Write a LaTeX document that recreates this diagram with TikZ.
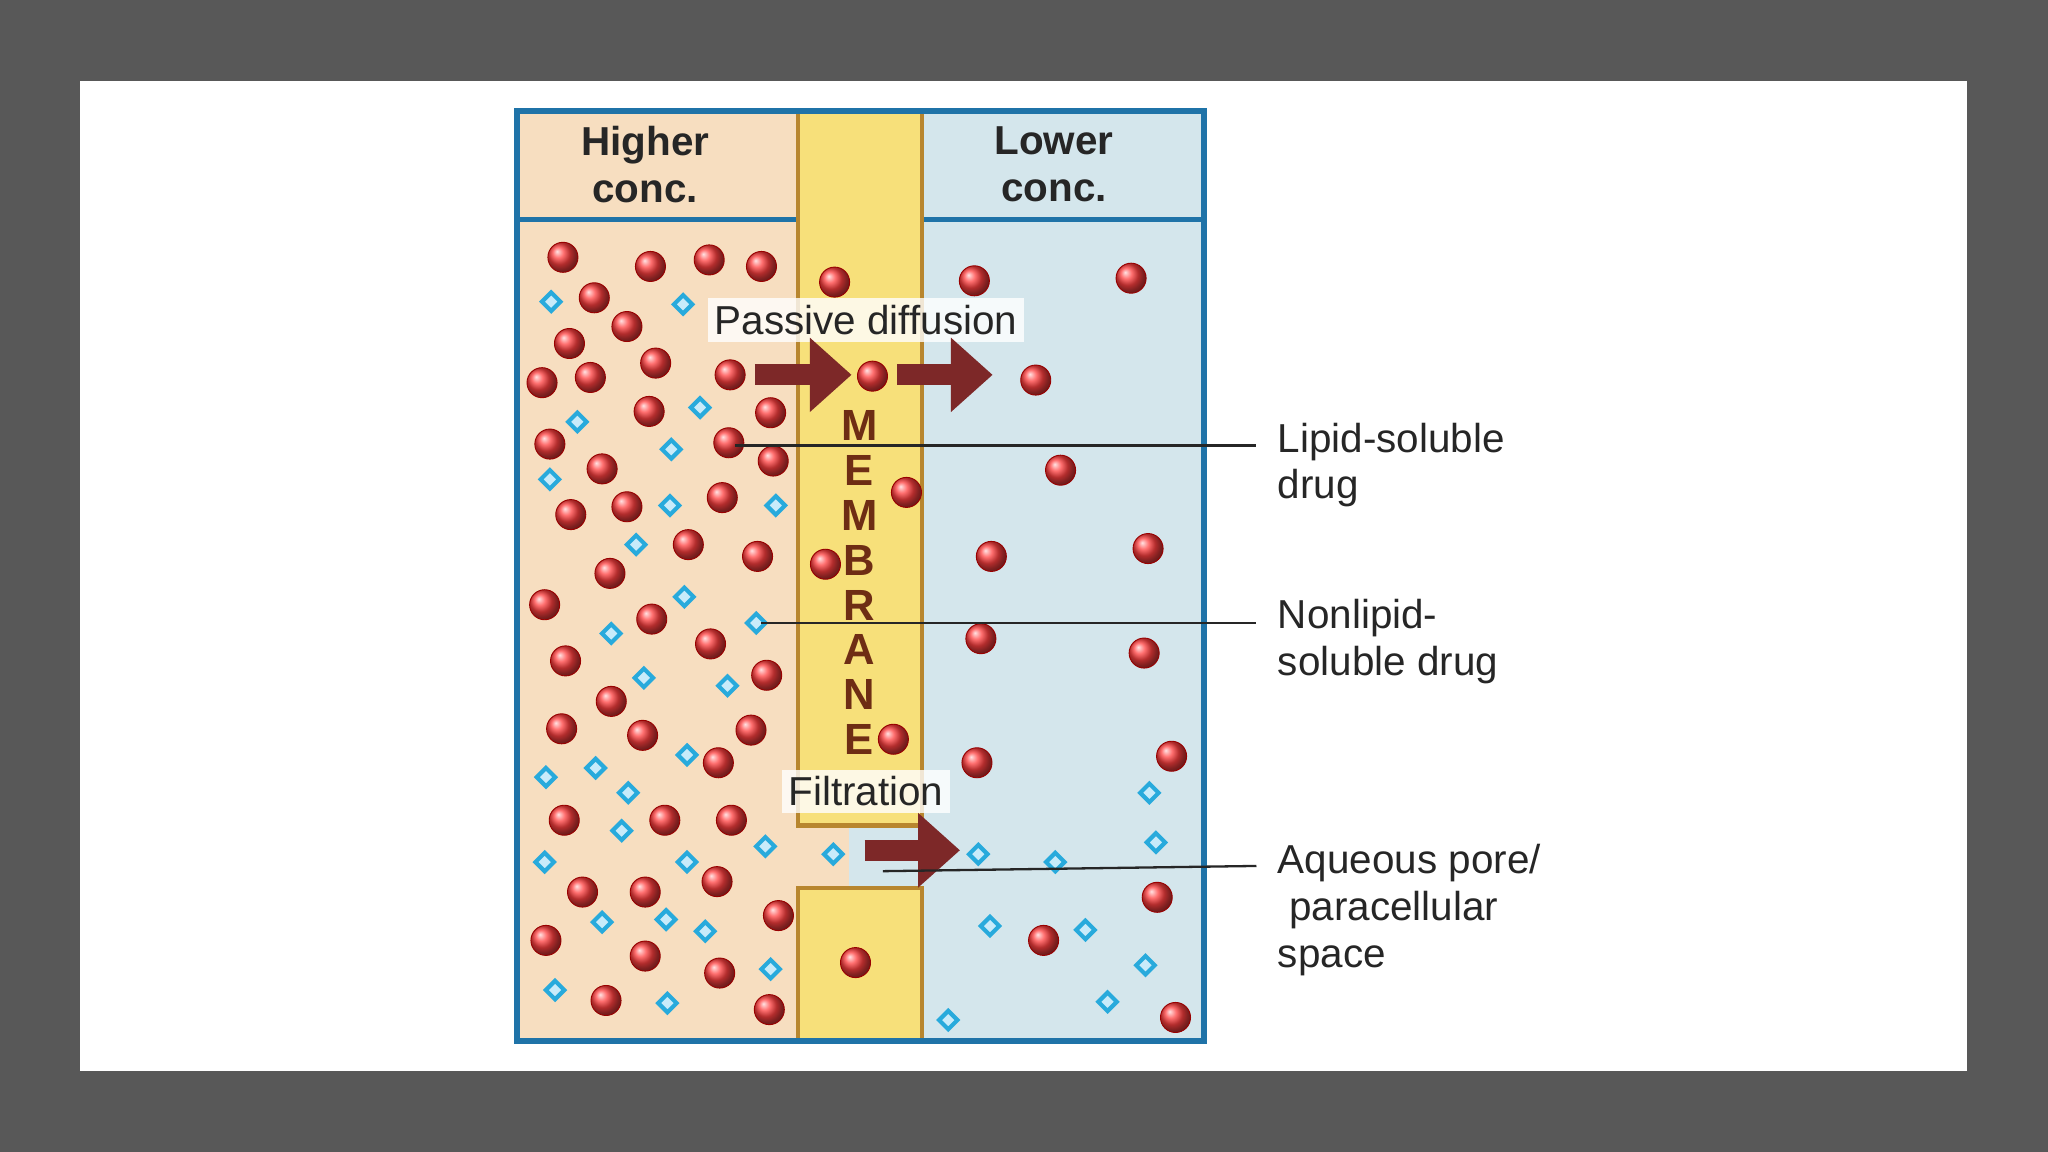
\documentclass[tikz,border=0pt]{standalone}
\usepackage{fontspec}
\setmainfont{Liberation Sans}
\usetikzlibrary{arrows.meta}
\definecolor{bgray}{RGB}{88,88,88}
\definecolor{peach}{RGB}{247,222,192}
\definecolor{lblue}{RGB}{212,230,236}
\definecolor{memb}{RGB}{247,224,122}
\definecolor{membb}{RGB}{184,134,46}
\definecolor{frame}{RGB}{31,115,168}
\definecolor{arr}{RGB}{125,40,40}
\definecolor{mtext}{RGB}{110,45,20}
\definecolor{dcyan}{RGB}{40,170,220}
\definecolor{dfill}{RGB}{200,235,250}
\tikzset{
 txt/.style={font=\fontsize{8.8}{10.2}\selectfont, text=black!85},
 hdr/.style={font=\fontsize{8.8}{10.2}\selectfont\bfseries, align=center, text=black!85},
 lbl/.style={txt, align=left, anchor=west},
 tag/.style={txt, fill=white, fill opacity=0.8, text opacity=1, inner sep=1.5pt},
 bigarrow/.style={arr, line width=1.6mm, -{Triangle[length=3.2mm,width=5.5mm]}},
 leader/.style={black!85, line width=0.5pt},
 mol/.style={ball color=red!75!white, draw=red!60!black, line width=0.2pt},
 dia/.style={draw=dcyan, fill=dfill, line width=0.9pt, rotate=45, minimum size=0.1cm, inner sep=0pt},
}
\begin{document}
\begin{tikzpicture}[x=0.01cm,y=-0.01cm]
\fill[bgray] (0,0) rectangle (1568,882);
\fill[white] (61,62) rectangle (1506,820);
% regions
\fill[peach] (396,85) rectangle (611,797);
\fill[lblue] (706,85) rectangle (922,797);
\fill[peach] (611,632) rectangle (650,680);
\fill[lblue] (650,632) rectangle (706,680);
\draw[frame, line width=1pt] (396,168) -- (922,168);
\draw[membb, line width=1pt, fill=memb] (611,85) rectangle (706,632);
\draw[membb, line width=1pt, fill=memb] (611,680) rectangle (706,797);
\draw[frame, line width=1.3pt] (396,85) rectangle (922,797);
\node[hdr] (hi) at (494,126) {Higher\\conc.};
\node[hdr] (lo) at (807,126) {Lower\\conc.};
\foreach \l [count=\i] in {M,E,M,B,R,A,N,E}
  \node[font=\fontsize{9.5}{10}\selectfont\bfseries, text=mtext] (m\i) at (658,{326+34.3*(\i-1)}) {\l};
% molecules
\foreach \x/\y in {431/197,498/204,543/199,583/204,455/228,480/250,436/263,502/278,415/293,452/289,559/287,497/315,590/316,421/340,558/339,592/353,461/359,480/388,553/381,437/394,527/417,580/426,467/439,417/463,499/474,544/493,433/506,587/517,468/537,430/558,492/563,575/559,550/584,432/628,509/628,560/628,446/683,494/683,549/675,596/701,418/720,494/732,551/745,464/766,589/773,
 639/216,668/288,694/377,632/432,684/566,655/737,
 746/215,866/213,793/291,812/360,759/426,879/420,751/489,876/500,748/584,897/579,886/687,799/720,900/779}
  \shade[mol] (\x,\y) circle[radius=0.115cm];
\foreach \x/\y in {422/231,523/233,442/323,536/312,514/344,421/367,513/387,594/387,487/417,524/457,468/485,579/477,493/519,557/525,526/578,418/595,456/588,481/607,476/636,586/648,417/660,526/660,461/706,510/704,540/713,590/742,425/758,511/768,
 638/654,749/654,808/660,880/607,885/645,758/709,831/712,877/739,848/767,726/781}
  \node[dia] at (\x,\y) {};
% tags
\node[tag] (pd) at (663,245) {Passive diffusion};
\node[tag] (fi) at (663,606) {Filtration};
% arrows
\coordinate (a1s) at (578,287); \coordinate (a1e) at (652,287);
\coordinate (a2s) at (687,287); \coordinate (a2e) at (760,287);
\coordinate (a3s) at (662,651); \coordinate (a3e) at (735,651);
\draw[bigarrow] (a1s) -- (a1e);
\draw[bigarrow] (a2s) -- (a2e);
\draw[bigarrow] (a3s) -- (a3e);
% labels and leaders
\node[lbl] (l1) at (966,356) {Lipid-soluble\\drug};
\node[lbl] (l2) at (966,491) {Nonlipid-\\soluble drug};
\node[lbl] (l3) at (966,697) {Aqueous pore/\\\ paracellular\\space};
\coordinate (p1) at (563,341); \coordinate (q1) at (962,341);
\coordinate (p2) at (583,477); \coordinate (q2) at (962,477);
\coordinate (p3) at (676,667); \coordinate (q3) at (962,663);
\draw[leader] (p1) -- (q1);
\draw[leader] (p2) -- (q2);
\draw[leader] (p3) -- (q3);
\end{tikzpicture}
\end{document}
